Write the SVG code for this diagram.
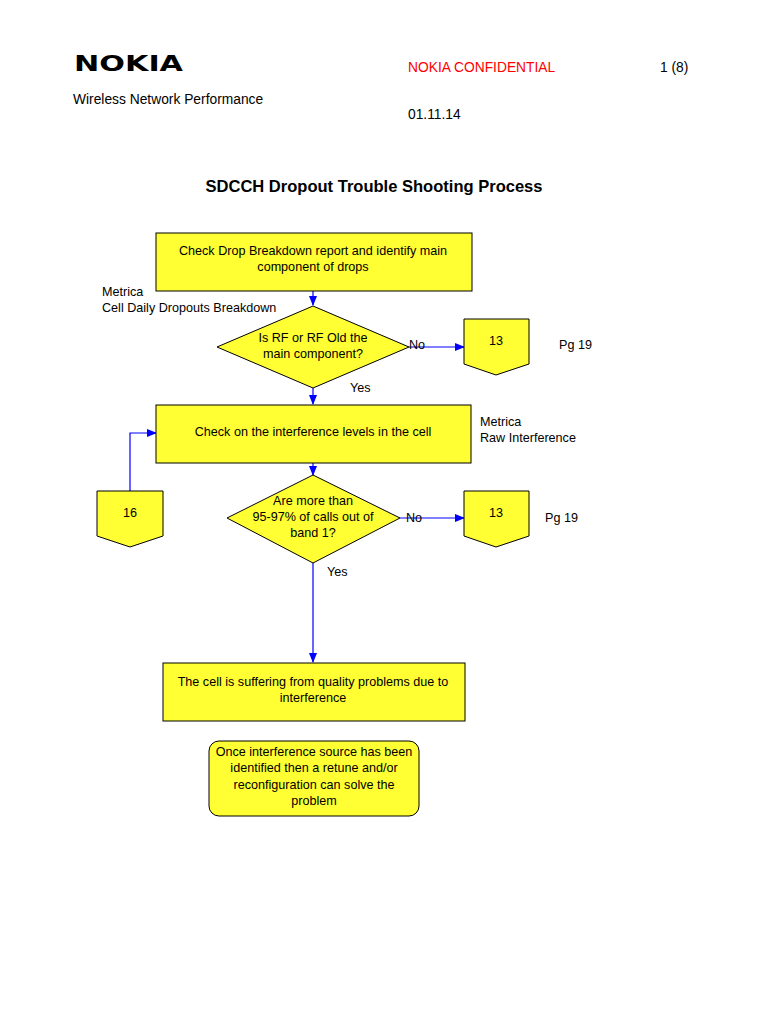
<svg xmlns="http://www.w3.org/2000/svg" width="768" height="1024" viewBox="0 0 768 1024">
<style>
text{font-family:"Liberation Sans",Arial,sans-serif;font-size:12.6px;fill:#000}
.c{text-anchor:middle}
.h{font-size:13.8px}
.s{fill:#ffff33;stroke:#000;stroke-width:1}
.l{stroke:#0000ff;stroke-width:1.2;fill:none;marker-end:url(#a)}
</style>
<defs><marker id="a" markerWidth="10" markerHeight="8" refX="9" refY="4" orient="auto" markerUnits="userSpaceOnUse"><path d="M0,0L10,4L0,8z" fill="#0000ff"/></marker></defs>
<rect width="768" height="1024" fill="#fff"/>
<text x="74" y="71" style="font-family:'DejaVu Sans',sans-serif;font-size:22px;font-weight:bold" textLength="109" lengthAdjust="spacingAndGlyphs">NOKIA</text>
<text x="408" y="72" class="h" style="fill:#ff0000">NOKIA CONFIDENTIAL</text>
<text x="660" y="72" class="h">1 (8)</text>
<text x="73" y="104" class="h">Wireless Network Performance</text>
<text x="408" y="119" class="h">01.11.14</text>
<text x="374" y="192" class="c" style="font-size:17px;font-weight:bold" textLength="337" lengthAdjust="spacingAndGlyphs">SDCCH Dropout Trouble Shooting Process</text>
<text x="102" y="296">Metrica</text>
<text x="102" y="312">Cell Daily Dropouts Breakdown</text>
<text x="480" y="426">Metrica</text>
<text x="480" y="442">Raw Interference</text>
<text x="559" y="349">Pg 19</text>
<text x="545" y="522">Pg 19</text>
<g id="connectors">
<path class="l" d="M313,291V305"/>
<path class="l" d="M409,347H464"/>
<path class="l" d="M313,388V404"/>
<path class="l" d="M313,463V475"/>
<path class="l" d="M400,518H464"/>
<path class="l" d="M130,491V433H156"/>
<path class="l" d="M313,563V662"/>
<text x="409" y="349">No</text><text x="350" y="392">Yes</text>
<text x="406" y="522">No</text><text x="327" y="576">Yes</text>
</g>
<g id="n1"><rect class="s" x="156" y="233" width="316" height="58"/><text class="c" x="313" y="255">Check Drop Breakdown report and identify main</text><text class="c" x="313" y="271">component of drops</text></g>
<g id="n2"><path class="s" d="M313,306L409,347L313,388L217,347z"/><text class="c" x="313" y="342">Is RF  or RF Old the</text><text class="c" x="313" y="358">main component?</text></g>
<g id="n3"><path class="s" d="M464,319H529V364L496,375L464,364z"/><text class="c" x="496" y="345">13</text></g>
<g id="n4"><rect class="s" x="156" y="405" width="315" height="58"/><text class="c" x="313" y="436">Check on the interference levels in the cell</text></g>
<g id="n5"><path class="s" d="M97,491H163V536L130,547L97,536z"/><text class="c" x="130" y="517">16</text></g>
<g id="n6"><path class="s" d="M313,475L400,518L313,563L227,518z"/><text class="c" x="313" y="505">Are more than</text><text class="c" x="313" y="521">95-97% of calls out of</text><text class="c" x="313" y="537">band 1?</text></g>
<g id="n7"><path class="s" d="M464,491H529V536L496,547L464,536z"/><text class="c" x="496" y="517">13</text></g>
<g id="n8"><rect class="s" x="163" y="663" width="302" height="58"/><text class="c" x="313" y="686">The cell is suffering from quality problems due to</text><text class="c" x="313" y="702">interference</text></g>
<g id="n9"><rect class="s" x="209" y="741" width="210" height="75" rx="10"/><text class="c" x="314" y="756">Once interference source has been</text><text class="c" x="314" y="772">identified then a retune and/or</text><text class="c" x="314" y="789">reconfiguration can solve the</text><text class="c" x="314" y="805">problem</text></g>
</svg>
